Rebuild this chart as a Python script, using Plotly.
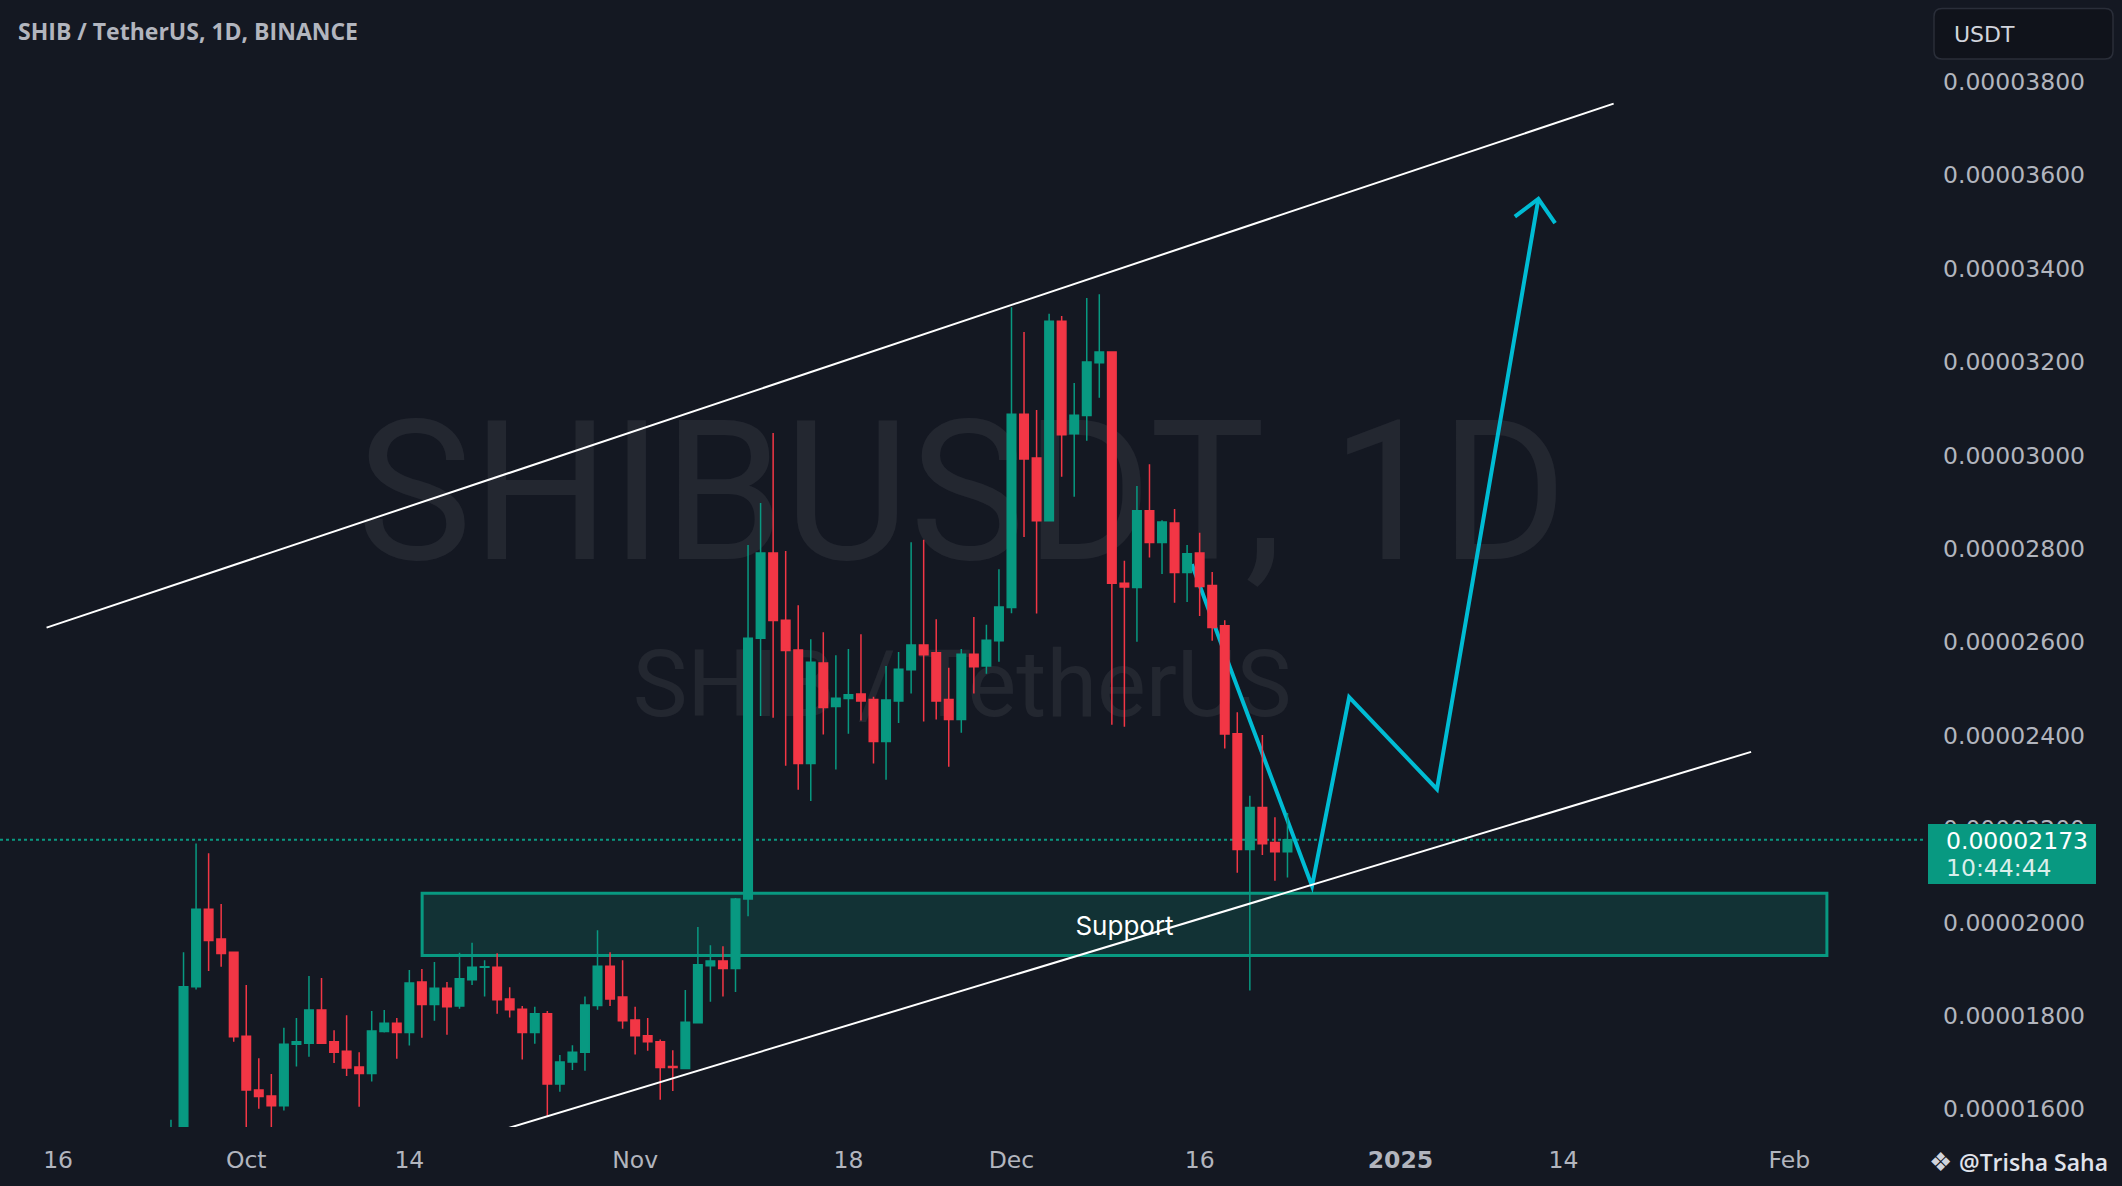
import pandas as pd
import plotly.graph_objects as go

# prices are kept in millionths of a USDT
SCALE = 1e-6

FIRST_DAY = "2024-09-25"
OPEN = [
    15.20, 15.35, 18.58, 20.24, 19.60, 19.32, 17.52, 16.37, 16.24, 16.03,
    17.35, 17.37, 18.08, 17.40, 17.20, 16.86, 16.72, 17.62, 17.80, 17.60,
    18.68, 18.20, 18.55, 18.17, 18.73, 19.00, 19.00, 18.32, 18.10, 17.60,
    18.00, 16.50, 16.97, 17.18, 18.18, 19.02, 18.36, 17.87, 17.53, 17.40,
    16.87, 16.83, 17.81, 19.03, 19.13, 18.97, 20.46, 26.04, 27.87, 26.43,
    25.79, 23.36, 25.51, 24.58, 24.75, 24.85, 24.73, 23.83, 24.70, 25.37,
    25.90, 25.73, 24.73, 24.30, 25.70, 25.45, 25.99, 26.70, 30.84, 29.90,
    28.56, 32.83, 30.42, 30.81, 31.94, 32.17, 27.22, 27.13, 28.77, 28.09,
    28.51, 27.45, 27.87, 27.17, 26.31, 24.00, 21.52, 22.42, 21.67, 21.47,
]
HIGH = [
    15.73, 19.32, 21.65, 21.44, 20.35, 19.32, 18.62, 17.05, 16.71, 17.70,
    17.91, 18.81, 18.77, 17.65, 17.97, 17.18, 18.06, 18.08, 17.91, 18.94,
    18.96, 19.11, 18.68, 19.31, 19.52, 19.15, 19.30, 18.57, 18.17, 18.15,
    18.06, 17.12, 17.33, 18.37, 19.79, 19.32, 19.15, 18.15, 17.91, 17.45,
    17.22, 18.51, 19.86, 19.47, 19.45, 20.48, 28.04, 28.94, 30.44, 27.91,
    26.75, 26.02, 26.17, 25.68, 25.81, 26.13, 24.79, 25.45, 25.75, 28.10,
    28.15, 26.45, 25.41, 25.81, 26.50, 26.33, 27.52, 33.13, 32.60, 30.93,
    32.99, 32.94, 31.51, 33.33, 33.41, 32.19, 27.70, 29.30, 29.77, 28.57,
    28.81, 28.04, 28.30, 27.46, 26.43, 24.46, 22.67, 23.97, 22.21, 22.30,
]
LOW = [
    15.10, 15.30, 18.52, 18.92, 19.01, 17.40, 15.45, 15.97, 15.45, 15.93,
    16.87, 17.08, 17.37, 16.95, 16.67, 16.01, 16.55, 17.60, 17.04, 17.32,
    17.49, 17.85, 17.55, 18.11, 18.62, 18.37, 18.00, 17.92, 17.02, 17.36,
    15.80, 16.33, 16.80, 16.78, 18.09, 18.17, 17.68, 17.13, 17.21, 16.16,
    16.35, 16.83, 17.81, 18.26, 18.37, 18.47, 20.09, 24.38, 24.34, 23.31,
    22.80, 22.56, 23.98, 23.23, 24.00, 24.28, 23.36, 23.01, 24.23, 24.86,
    24.26, 24.30, 23.29, 24.02, 24.86, 25.28, 25.54, 26.58, 28.21, 26.57,
    28.56, 29.50, 29.07, 30.27, 31.19, 24.19, 24.15, 25.97, 27.77, 27.42,
    26.80, 26.82, 26.52, 25.99, 23.68, 21.02, 18.50, 21.40, 20.85, 20.92,
]
CLOSE = [
    15.40, 18.58, 20.24, 19.57, 19.29, 17.51, 16.37, 16.23, 16.03, 17.35,
    17.40, 18.08, 17.37, 17.18, 16.84, 16.72, 17.63, 17.80, 17.60, 18.66,
    18.20, 18.55, 18.15, 18.75, 19.00, 19.01, 18.30, 18.09, 17.60, 18.00,
    16.50, 16.97, 17.18, 18.19, 19.02, 18.32, 17.85, 17.53, 17.40, 16.85,
    16.85, 17.82, 19.05, 19.13, 18.97, 20.46, 26.04, 27.87, 26.42, 25.78,
    23.36, 25.53, 24.56, 24.76, 24.83, 24.70, 23.83, 24.72, 25.38, 25.90,
    25.69, 24.70, 24.30, 25.70, 25.43, 26.00, 26.71, 30.84, 29.88, 28.56,
    32.83, 30.40, 30.82, 31.96, 32.17, 27.22, 27.14, 28.77, 28.09, 28.53,
    27.45, 27.85, 27.15, 26.27, 23.99, 21.52, 22.42, 21.64, 21.47, 21.73,
]

PRICE_TICKS = [16, 18, 20, 22, 24, 26, 28, 30, 32, 34, 36, 38]
DATE_TICKS = ["2024-09-16", "2024-10-01", "2024-10-14", "2024-11-01", "2024-11-18",
              "2024-12-01", "2024-12-16", "2025-01-01", "2025-01-14", "2025-02-01"]
DATE_TICK_TEXT = ["16", "Oct", "14", "Nov", "18", "Dec", "16", "<b>2025</b>", "14", "Feb"]

LAST_PRICE = 21.73
COUNTDOWN = "10:44:44"

# drawings on the chart (date, price) pairs
UPPER_LINE_X = ["2024-09-15 02:00", "2025-01-18 00:00"]
UPPER_LINE_Y = [26.27, 37.49]
LOWER_LINE_X = ["2024-10-20 00:00", "2025-01-28 23:00"]
LOWER_LINE_Y = [15.40, 23.61]
PATH_X = ["2024-12-15 09:00", "2024-12-18 10:00", "2024-12-24 23:00",
          "2024-12-27 22:00", "2025-01-03 22:00", "2025-01-12 00:00"]
PATH_Y = [27.63, 25.42, 20.74, 24.78, 22.81, 35.45]
ARROW_X = ["2025-01-10 03:00", "2025-01-12 00:00", "2025-01-13 08:00"]
ARROW_Y = [35.07, 35.45, 34.93]
SUPPORT_X = ["2024-10-15 00:30", "2025-02-04 00:00"]
SUPPORT_Y = [19.25, 20.58]

X_RANGE = ["2024-09-11 08:53", "2025-02-11 17:46"]
Y_RANGE = [15.577, 39.709]

BG = "#141822"
GREEN = "#089981"
RED = "#F23645"
CYAN = "#00BCD4"
TEXT = "#B2B5BE"
AXIS_FONT = "DejaVu Sans"


def svg_path(xs, ys):
    pts = [f"{x.replace(' ', '_')},{y * SCALE:.10f}" for x, y in zip(xs, ys)]
    return "M " + " L ".join(pts)


dates = pd.date_range(FIRST_DAY, periods=len(OPEN), freq="D")
fig = go.Figure()
fig.add_trace(
    go.Candlestick(
        x=dates,
        open=[v * SCALE for v in OPEN],
        high=[v * SCALE for v in HIGH],
        low=[v * SCALE for v in LOW],
        close=[v * SCALE for v in CLOSE],
        increasing=dict(line=dict(color=GREEN, width=1.5), fillcolor=GREEN),
        decreasing=dict(line=dict(color=RED, width=1.5), fillcolor=RED),
        whiskerwidth=0,
        showlegend=False,
        hoverinfo="x+y",
    )
)

# plot area is 1924 x 1127 px, used for the items placed in paper coords
PW, PH = 1924.0, 1127.0


def px_x(v):
    return v / PW


def px_y(v):
    return (PH - v) / PH


shapes = []
# watermark behind the candles
narrow = "Liberation Sans Narrow, Roboto, sans-serif"
for text, yc, size in [("SHIBUSDT, 1D", px_y(478), 194), ("SHIB / TetherUS", px_y(677), 92)]:
    shapes.append(dict(
        type="rect", xref="paper", yref="paper", x0=0.45, x1=0.55, y0=yc - 0.005, y1=yc + 0.005,
        line=dict(width=0), fillcolor="rgba(0,0,0,0)", layer="below",
        label=dict(text=text, textposition="middle center",
                   font=dict(family=narrow, size=size, color="rgba(255,255,255,0.065)")),
    ))
# support zone
shapes.append(dict(
    type="rect", xref="x", yref="y",
    x0=SUPPORT_X[0], x1=SUPPORT_X[1], y0=SUPPORT_Y[0] * SCALE, y1=SUPPORT_Y[1] * SCALE,
    line=dict(color=GREEN, width=3), fillcolor="rgba(8,153,129,0.2)", layer="below",
    label=dict(text="Support", textposition="middle center",
               font=dict(family="Inter, Noto Sans, sans-serif", size=26, color="#FFFFFF")),
))
# last price dotted line
shapes.append(dict(
    type="line", xref="paper", yref="y", x0=0, x1=1, y0=LAST_PRICE * SCALE, y1=LAST_PRICE * SCALE,
    line=dict(color=GREEN, width=2, dash="dot"), layer="below",
))
# projected path
shapes.append(dict(type="path", xref="x", yref="y", path=svg_path(PATH_X, PATH_Y),
                   line=dict(color=CYAN, width=4), layer="below"))
shapes.append(dict(type="path", xref="x", yref="y", path=svg_path(ARROW_X, ARROW_Y),
                   line=dict(color=CYAN, width=4), layer="below"))
# channel lines
for xs, ys in [(UPPER_LINE_X, UPPER_LINE_Y), (LOWER_LINE_X, LOWER_LINE_Y)]:
    shapes.append(dict(type="line", xref="x", yref="y", x0=xs[0], x1=xs[1],
                       y0=ys[0] * SCALE, y1=ys[1] * SCALE,
                       line=dict(color="#FFFFFF", width=2), layer="above"))

# currency box with rounded corners
x0, x1, y0, y1, r = 1934, 2113, 8.5, 59, 8
usdt_path = (
    f"M {px_x(x0 + r)},{px_y(y0)} L {px_x(x1 - r)},{px_y(y0)} "
    f"Q {px_x(x1)},{px_y(y0)} {px_x(x1)},{px_y(y0 + r)} L {px_x(x1)},{px_y(y1 - r)} "
    f"Q {px_x(x1)},{px_y(y1)} {px_x(x1 - r)},{px_y(y1)} L {px_x(x0 + r)},{px_y(y1)} "
    f"Q {px_x(x0)},{px_y(y1)} {px_x(x0)},{px_y(y1 - r)} L {px_x(x0)},{px_y(y0 + r)} "
    f"Q {px_x(x0)},{px_y(y0)} {px_x(x0 + r)},{px_y(y0)} Z"
)
shapes.append(dict(type="path", xref="paper", yref="paper", path=usdt_path,
                   line=dict(color="#2A2E39", width=1.5), fillcolor="#10131B", layer="above"))
# last price label box
shapes.append(dict(type="rect", xref="paper", yref="paper",
                   x0=px_x(1928), x1=px_x(2096), y0=px_y(884), y1=px_y(824),
                   line=dict(width=0), fillcolor=GREEN, layer="above"))

annotations = [
    dict(text="SHIB / TetherUS, 1D, BINANCE", xref="paper", yref="paper",
         x=px_x(16), y=px_y(31), xanchor="left", yanchor="middle", showarrow=False,
         font=dict(family="Open Sans", size=23, color=TEXT, weight=700)),
    dict(text="USDT", xref="paper", yref="paper", x=px_x(1952), y=px_y(34),
         xanchor="left", yanchor="middle", showarrow=False,
         font=dict(family=AXIS_FONT, size=22, color="#D1D4DC")),
    dict(text=f"{LAST_PRICE * SCALE:.8f}", xref="paper", yref="paper", x=px_x(1944), y=px_y(841),
         xanchor="left", yanchor="middle", showarrow=False,
         font=dict(family=AXIS_FONT, size=23.5, color="#FFFFFF")),
    dict(text=COUNTDOWN, xref="paper", yref="paper", x=px_x(1944), y=px_y(868),
         xanchor="left", yanchor="middle", showarrow=False,
         font=dict(family=AXIS_FONT, size=23.5, color="rgba(255,255,255,0.85)")),
    dict(text="\u2756", xref="paper", yref="paper", x=px_x(1940), y=px_y(1162),
         xanchor="center", yanchor="middle", showarrow=False,
         font=dict(family=AXIS_FONT, size=26, color="#D1D4DC")),
    dict(text="@Trisha Saha", xref="paper", yref="paper", x=px_x(1957), y=px_y(1162),
         xanchor="left", yanchor="middle", showarrow=False,
         font=dict(family="Open Sans", size=23, color="#E0E3EB", weight=600)),
]

fig.update_layout(
    width=2122,
    height=1186,
    margin=dict(l=0, r=198, t=0, b=59, pad=0),
    paper_bgcolor=BG,
    plot_bgcolor=BG,
    boxgap=0.32,
    boxgroupgap=0,
    shapes=shapes,
    annotations=annotations,
    showlegend=False,
    xaxis=dict(
        type="date", range=X_RANGE, rangeslider=dict(visible=False),
        showgrid=False, zeroline=False, showline=False, ticks="",
        tickvals=DATE_TICKS, ticktext=DATE_TICK_TEXT,
        tickfont=dict(family=AXIS_FONT, size=23.5, color=TEXT),
        ticklabelstandoff=16,
    ),
    yaxis=dict(
        side="right", range=[v * SCALE for v in Y_RANGE],
        showgrid=False, zeroline=False, showline=False, ticks="",
        tickvals=[v * SCALE for v in PRICE_TICKS],
        ticktext=[f"{v * SCALE:.8f}" for v in PRICE_TICKS],
        tickfont=dict(family=AXIS_FONT, size=23.5, color=TEXT),
        ticklabelstandoff=18,
        ticklabelshift=2,
    ),
)

fig.write_html(
    "out.html",
    config={"displayModeBar": False},
    post_script="document.body.style.margin='0';document.body.style.overflow='hidden';",
)
